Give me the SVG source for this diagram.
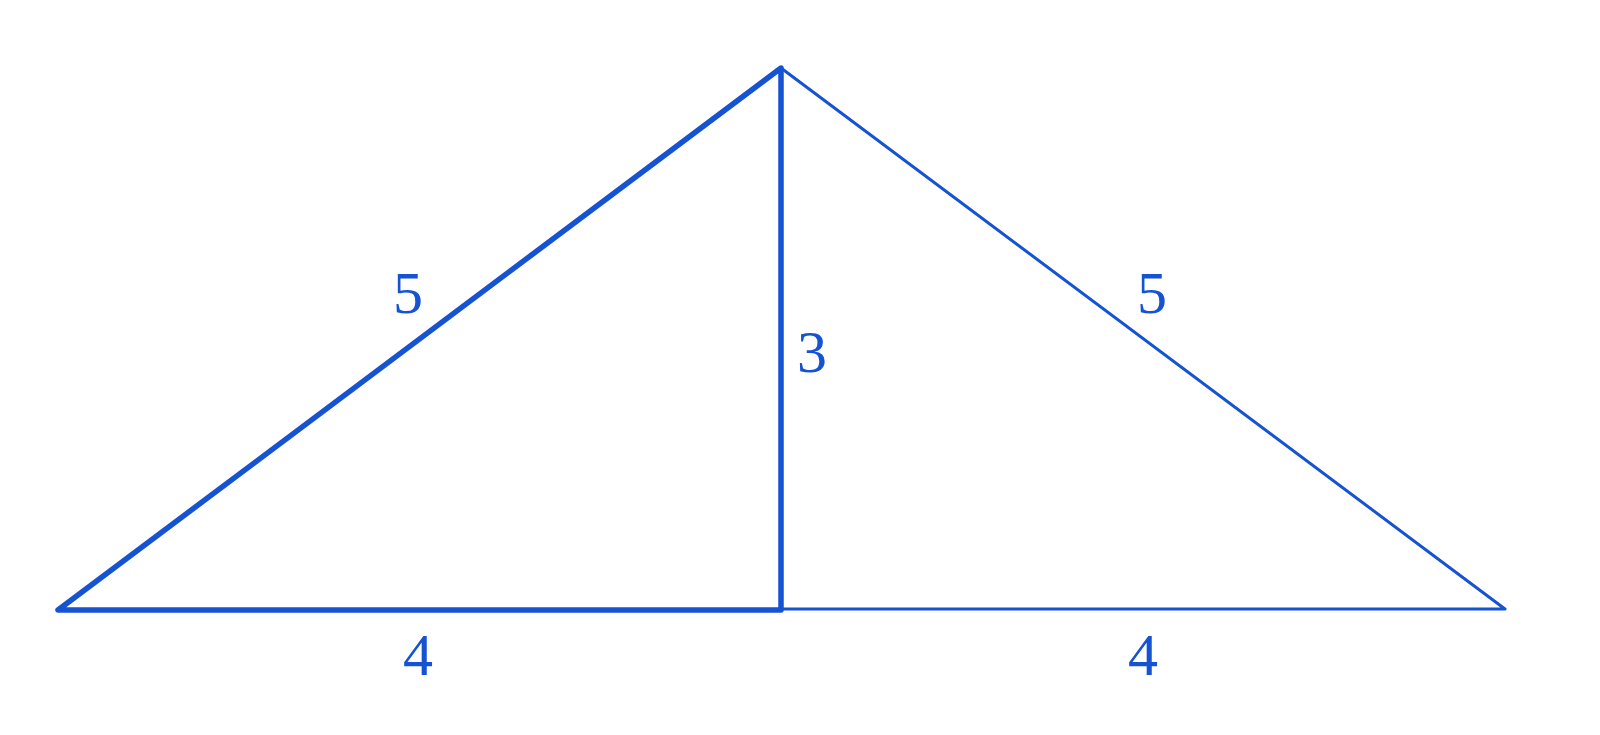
<svg xmlns="http://www.w3.org/2000/svg" width="1600" height="735" viewBox="0 0 1600 735">
<style>
.e{fill:none;stroke:#1553d3;stroke-linejoin:round;stroke-linecap:round}
.thin{stroke-width:3}
.thick{stroke-width:5.5}
.l{font-family:"Liberation Serif","Times New Roman",serif;font-size:60px;fill:#1553d3;text-anchor:middle}
</style>
<rect width="1600" height="735" fill="#ffffff"/>
<g id="connectors">
<polygon id="right-triangle" class="e thin" points="781,68 1505,609 781,609"/>
<polygon id="left-triangle" class="e thick" points="781,68 58,610 781,610"/>
</g>
<g id="labels">
<text class="l" x="408" y="313">5</text>
<text class="l" x="812" y="372">3</text>
<text class="l" x="418" y="675">4</text>
<text class="l" x="1143" y="675">4</text>
<text class="l" x="1152" y="313">5</text>
</g>
</svg>
